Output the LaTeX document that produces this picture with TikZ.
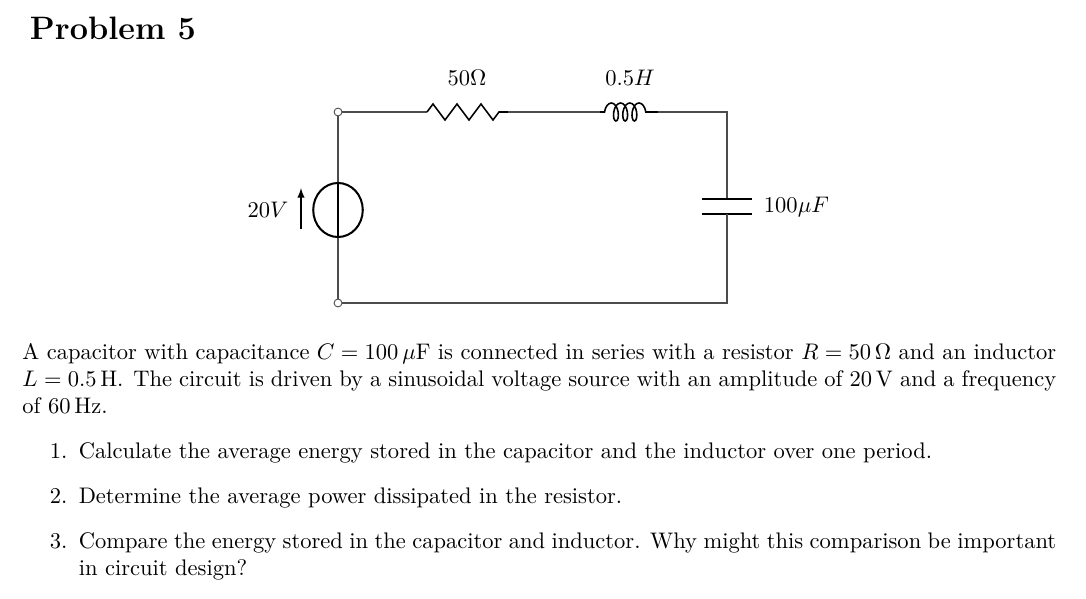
\documentclass[tikz,border=0pt]{standalone}
\usepackage{amsmath}
\usepackage{amssymb}
\usetikzlibrary{arrows,decorations.pathmorphing,shapes.geometric}
\begin{document}
\begin{tikzpicture}[x=0.444pt,y=-0.444pt,>=latex,
  wire/.style={draw=black!70,line width=0.5pt},
  part/.style={draw=black,line width=0.7pt},
  terminal/.style={circle,draw=black!70,fill=white,inner sep=0pt,minimum size=3.5pt},
  lbl/.style={font=\normalsize}]
  \useasboundingbox (0,0) rectangle (1086,599);

  \node[anchor=base west,font=\Large\bfseries] (title) at (22,40) {Problem 5};

  % circuit
  \node[terminal] (tl) at (338,112) {};
  \node[terminal] (bl) at (338,303) {};
  \coordinate (tr) at (727,112);
  \coordinate (br) at (727,303);
  \coordinate (r1) at (427,112);
  \coordinate (r2) at (508,112);
  \coordinate (l1) at (600,112);
  \coordinate (l2) at (658,112);
  \coordinate (c1) at (727,199);
  \coordinate (c2) at (727,214);
  \node[draw=black,line width=0.9pt,ellipse,inner sep=0pt,
        minimum width=22pt,minimum height=24pt] (src) at (338,210) {};
  \draw[line width=1pt] (src.north) -- (src.south);

  \draw[wire] (tl) -- (r1);
  \draw[part] (r1) -- (433,104) -- (445,120) -- (457,104) -- (469,120) -- (481,104) -- (493,120) -- (499,112) -- (r2);
  \draw[wire] (r2) -- (l1);
  \draw[part,decorate,decoration={coil,aspect=0.5,amplitude=4pt,segment length=4.1pt,pre length=2pt,post length=2pt}] (l1) -- (l2);
  \draw[wire] (l2) -- (tr) -- (c1);
  \draw[part,line width=1.2pt] (702,199) -- (752,199);
  \draw[part,line width=1.2pt] (702,214) -- (752,214);
  \draw[wire] (c2) -- (br) -- (bl);
  \draw[wire] (bl) -- (src.south);
  \draw[wire] (src.north) -- (tl);
  \coordinate (a1) at (301,229);
  \coordinate (a2) at (301,188);
  \draw[->,line width=0.5pt] (a1) -- (a2);

  \node[lbl] (vlbl) at (268,210) {$20V$};
  \node[lbl] (rlbl) at (467,78) {$50\Omega$};
  \node[lbl] (llbl) at (630,78) {$0.5H$};
  \node[lbl,anchor=west] (clbl) at (756,207) {$100\mu F$};

  % text
  \node[anchor=north west,inner sep=0pt,text width=459pt,align=justify] (body) at (22,343) {%
    A capacitor with capacitance $C = 100\,\mu\mathrm{F}$ is connected in series with a resistor $R = 50\,\Omega$ and an inductor $L = 0.5\,\mathrm{H}$. The circuit is driven by a sinusoidal voltage source with an amplitude of $20\,\mathrm{V}$ and a frequency of $60\,\mathrm{Hz}$.
    \begin{enumerate}
      \item Calculate the average energy stored in the capacitor and the inductor over one period.
      \item Determine the average power dissipated in the resistor.
      \item Compare the energy stored in the capacitor and inductor. Why might this comparison be important in circuit design?
    \end{enumerate}};
\end{tikzpicture}
\end{document}
